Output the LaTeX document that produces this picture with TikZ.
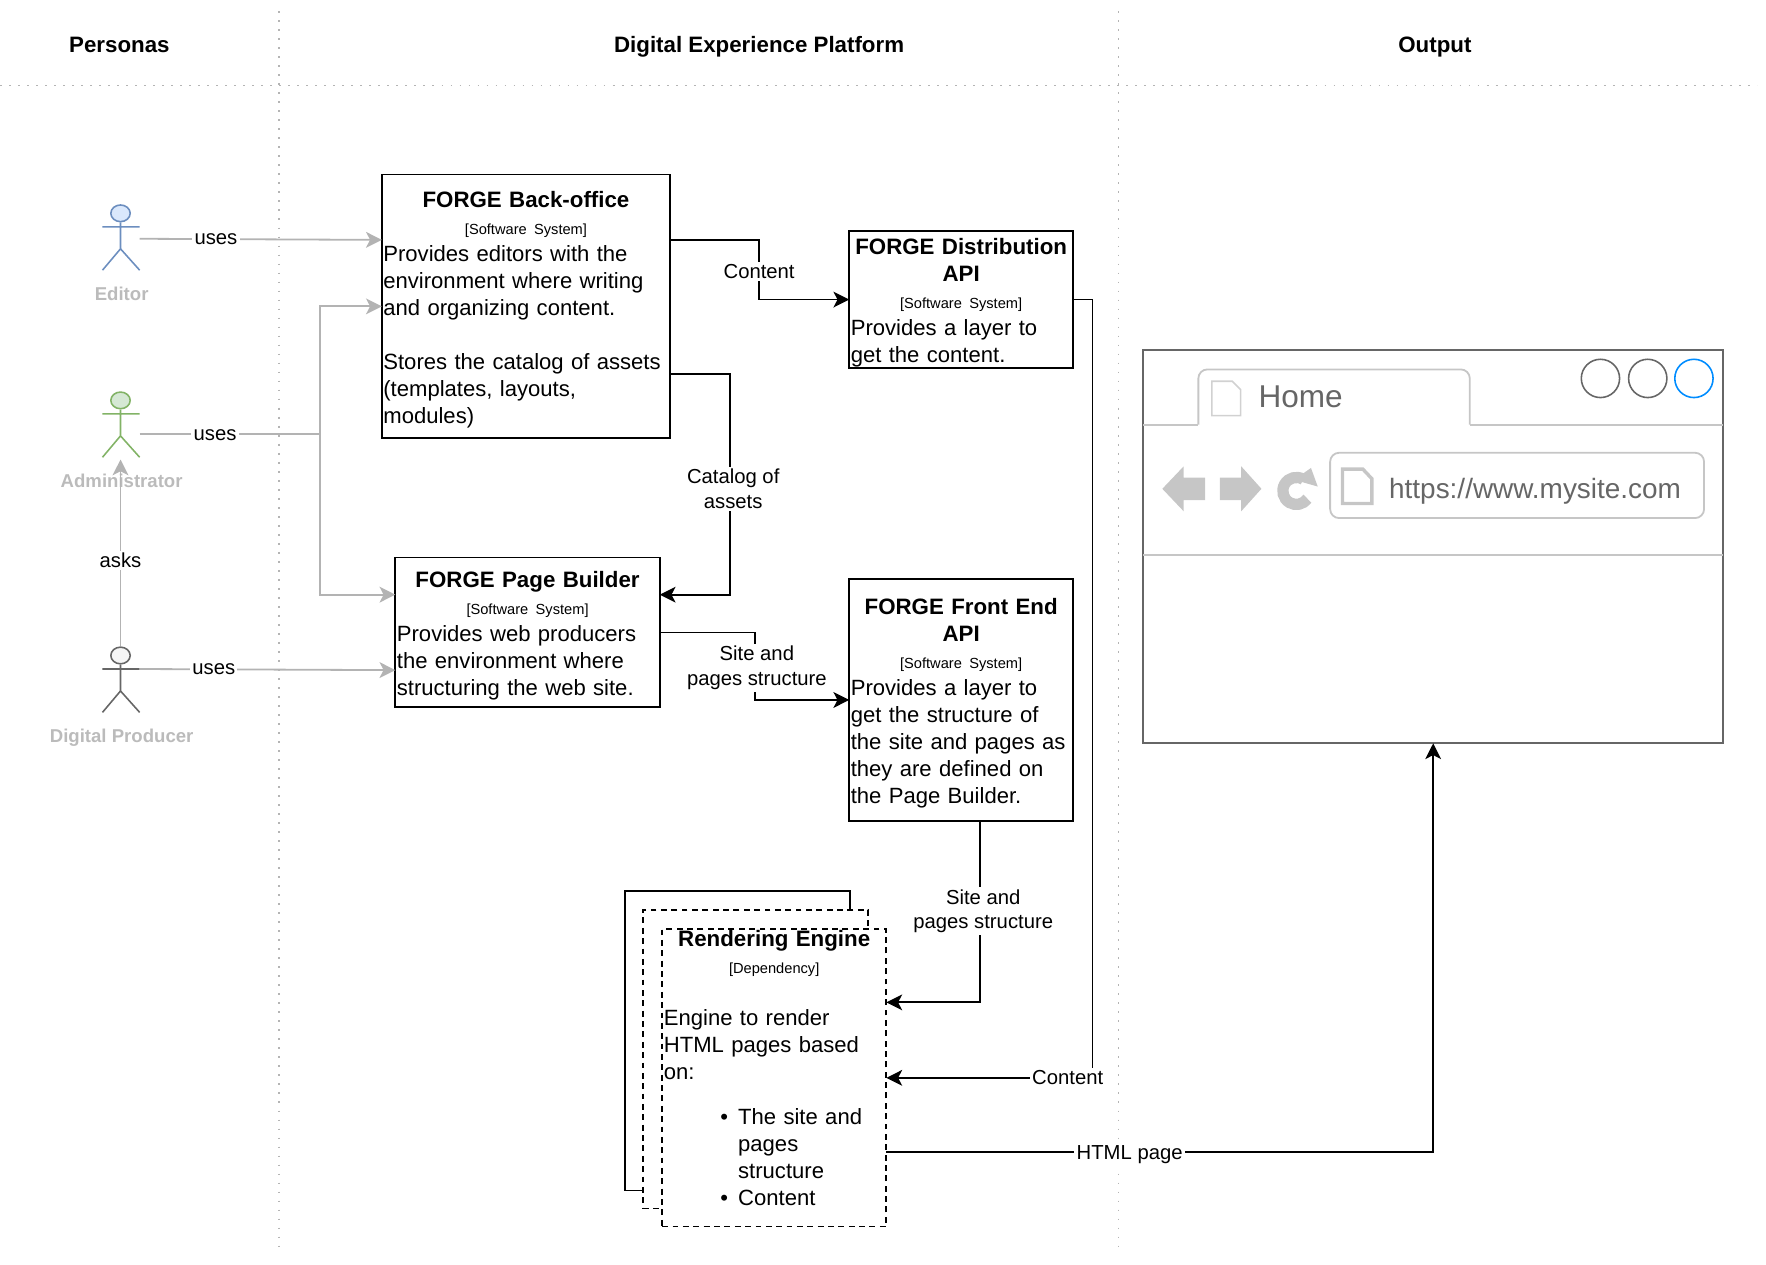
\documentclass[tikz,border=0pt]{standalone}
\usepackage{fontspec}
\setmainfont{Liberation Sans}
\usetikzlibrary{arrows.meta,shapes.geometric}

\definecolor{guidegray}{HTML}{B4B4B4}
\definecolor{usesgray}{HTML}{B3B3B3}
\definecolor{personagray}{HTML}{BBBBBB}
\definecolor{chromegray}{HTML}{C6C6C6}
\definecolor{textgray}{HTML}{666666}
\definecolor{editorfill}{HTML}{DAE8FC}
\definecolor{editorline}{HTML}{6C8EBF}
\definecolor{adminfill}{HTML}{D5E8D4}
\definecolor{adminline}{HTML}{82B366}
\definecolor{producerfill}{HTML}{F5F5F5}
\definecolor{producerline}{HTML}{666666}
\definecolor{closeblue}{HTML}{008CFF}

\newcommand{\boxhead}[2]{{\centering\fontsize{9.9}{12}\bfseries\selectfont\strut #1\par
  \fontsize{6.5}{12}\mdseries\selectfont #2\par}}
\newcommand{\boxend}{\strut\par\kern-3pt}
\newcommand{\listitem}[1]{\hspace*{33pt}\llap{\textbullet\hspace{4.5pt}}#1}
\newcommand{\listmore}[1]{\hspace*{33pt}#1}

\tikzset{
  >={Stealth[length=7pt,width=7pt,inset=1.8pt]},
  softbox/.style={draw, line width=0.8pt, fill=white, anchor=north west, inner xsep=0.7pt,
    inner ysep=0pt, outer sep=0pt, align=left, font=\fontsize{9.8}{12}\selectfont},
  stackbox/.style={softbox, dash pattern=on 2.6pt off 2pt},
  flow/.style={->, line width=0.8pt},
  usesflow/.style={->, line width=0.8pt, color=usesgray},
  edgelabel/.style={fill=white, inner sep=1pt, align=center, font=\fontsize{9}{11}\selectfont},
  header/.style={anchor=base, font=\fontsize{9.9}{12}\bfseries\selectfont},
  guide/.style={color=guidegray, line width=0.8pt, dash pattern=on 0.8pt off 3.2pt},
  persona/.style={color=personagray, font=\fontsize{8.25}{10}\bfseries\selectfont},
  chrome/.style={color=chromegray, line width=0.8pt}
}

\begin{document}
\begin{tikzpicture}[x=0.5pt, y=-0.5pt]
\useasboundingbox (0, 0) rectangle (1568, 1122.3);

\node[header] (personas) at (106, 47) {Personas};
\node[header] (platform) at (674, 47) {Digital Experience Platform};
\node[header] (output) at (1274, 47) {Output};
\draw[guide] (248, 10) -- (248, 1110);
\draw[guide] (993, 10) -- (993, 1113);
\draw[guide] (0, 76) -- (1560, 76);

% actors
\foreach \name/\hy/\fillc/\linec/\ly/\who in {
    editor/189.4/editorfill/editorline/261/Editor,
    admin/355.5/adminfill/adminline/427/Administrator,
    producer/582/producerfill/producerline/655/Digital Producer} {
  \node[draw=\linec, fill=\fillc, ellipse, line width=0.7pt, minimum width=8.6pt,
    minimum height=7.4pt, inner sep=0pt] (\name) at (107, \hy) {};
  \draw[color=\linec, line width=0.7pt] (\name.south) -- (107, {\hy+31.5})
    (91, {\hy+12}) -- (124, {\hy+12})
    (91, {\hy+50.5}) -- (107, {\hy+31.5}) -- (124, {\hy+50.5});
  \node[persona] (\name label) at (108, \ly) {\who};
}
\coordinate (editorhand) at (124, 212);
\coordinate (adminhand) at (124, 385);
\coordinate (producerhand) at (124, 594);
\coordinate (adminfoot) at (107, 408);

% system boxes
\node[softbox, text width=126.6pt, minimum height=117pt] (backoffice) at (339, 155) {%
  \boxhead{FORGE Back-office}{[Software System]}
  Provides editors with the\\environment where writing\\and organizing content.\\[12pt]
  Stores the catalog of assets\\(templates, layouts,\\modules)\boxend};
\node[softbox, text width=98pt, minimum height=61pt] (distribution) at (754, 205) {%
  \boxhead{FORGE Distribution\\API}{[Software System]}
  Provides a layer to\\get the content.\boxend};
\node[softbox, text width=116pt, minimum height=66.5pt] (pagebuilder) at (351, 495) {%
  \boxhead{FORGE Page Builder}{[Software System]}
  Provides web producers\\the environment where\\structuring the web site.\boxend};
\node[softbox, text width=98pt, minimum height=107.5pt] (frontend) at (754, 514) {%
  \boxhead{FORGE Front End\\API}{[Software System]}
  Provides a layer to\\get the structure of\\the site and pages as\\they are defined on\\the Page Builder.\boxend};

% rendering stack
\node[softbox, minimum width=100pt, minimum height=133pt] (renderback) at (555, 791) {};
\node[stackbox, minimum width=100pt, minimum height=132.5pt] (rendermid) at (571, 808) {};
\node[stackbox, minimum width=99.5pt, minimum height=132pt] (renderfront) at (588, 825) {};
\node[anchor=north west, inner sep=0pt, text width=98pt, align=left,
  font=\fontsize{9.8}{12}\selectfont] (rendertext) at (589, 823) {%
  \boxhead{Rendering Engine}{[Dependency]}
  \vspace{11pt}
  Engine to render\\HTML pages based\\on:\\[8pt]
  \listitem{The site and}\\\listmore{pages}\\\listmore{structure}\\\listitem{Content}\strut};

% browser
\node[draw=textgray, line width=0.8pt, anchor=north west, minimum width=257.5pt,
  minimum height=174.5pt, inner sep=0pt, outer sep=0pt] (browser) at (1015, 311) {};
\draw[chrome] (browser.west |- 0, 377) -- (1064, 377);
\draw[chrome, rounded corners=4pt] (1064, 377) -- (1064, 328) -- (1305, 328) -- (1305, 377);
\draw[chrome] (1305, 377) -- (browser.east |- 0, 377);
\draw[chrome] (browser.west |- 0, 493) -- (browser.east |- 0, 493);
\draw[color=chromegray!80, line width=0.7pt] (1076, 338.5) -- (1094, 338.5) -- (1101.5, 346)
  -- (1101.5, 369) -- (1076, 369) -- cycle;
\node[color=textgray, anchor=west, inner sep=0pt, font=\fontsize{14}{16}\selectfont] (hometab)
  at (1117, 352) {Home};
\foreach \cx/\cc in {1421/textgray, 1463/textgray, 1504/closeblue}
  \draw[color=\cc, line width=0.7pt] (\cx, 336) circle (8.5pt);
\fill[chromegray] (1032, 434) -- (1051, 414) -- (1051, 424) -- (1070, 424) -- (1070, 444)
  -- (1051, 444) -- (1051, 454) -- cycle;
\fill[chromegray] (1120, 434) -- (1102, 414) -- (1102, 424) -- (1083, 424) -- (1083, 444)
  -- (1102, 444) -- (1102, 454) -- cycle;
\draw[chromegray, line width=5pt] (1157, 425.5) arc[start angle=60, end angle=325, radius=6pt];
\fill[chromegray] (1164, 415.5) -- (1170, 432) -- (1149, 426) -- cycle;
\draw[chrome, rounded corners=4pt] (1181, 402) rectangle (1513, 460);
\draw[color=chromegray, line width=1.5pt] (1192, 416.5) -- (1210, 416.5) -- (1218, 425)
  -- (1218, 447) -- (1192, 447) -- cycle;
\node[color=textgray, anchor=west, inner sep=0pt, font=\fontsize{12.4}{15}\selectfont] (urlbar)
  at (1233, 436) {https://www.mysite.com};

% persona connectors
\draw[usesflow] (editorhand) -- ([yshift=29.5pt]backoffice.west)
  node[edgelabel, pos=0.315, text=black] (usesa) {uses};
\draw[color=usesgray, line width=0.8pt] (adminhand) -- (284, 385);
\draw[usesflow] (284, 385) |- (backoffice.west);
\draw[usesflow] (284, 385) |- ([yshift=16.75pt]pagebuilder.west);
\node[edgelabel] (usesb) at (191, 386) {uses};
\draw[usesflow] (producerhand) -- ([yshift=-16.75pt]pagebuilder.west)
  node[edgelabel, pos=0.29, text=black] (usesc) {uses};
\draw[usesflow] (producer.north) -- (adminfoot)
  node[edgelabel, pos=0.46, text=black] (asks) {asks};

% system connectors
\draw[flow] ([yshift=29.5pt]backoffice.east) -| (674, 241)
  node[edgelabel] (content) {Content} |- (distribution.west);
\draw[flow] ([yshift=-30pt]backoffice.east) -| (648, 433)
  |- ([yshift=16.75pt]pagebuilder.east);
\node[edgelabel] (catalog) at (651, 434) {Catalog of\\assets};
\draw[flow] (pagebuilder.east) -| (670, 591) |- (frontend.west);
\node[edgelabel] (sitea) at (672, 593) {Site and\\pages structure};
\draw[flow] ([xshift=8.25pt]frontend.south) |- ([yshift=33.5pt]renderfront.east);
\node[edgelabel] (siteb) at (873, 809) {Site and\\pages structure};
\draw[flow] (distribution.east) -| (970, 957) -- (renderfront.east);
\node[edgelabel] (contentb) at (948, 957) {Content};
\draw[flow] ([yshift=-33pt]renderfront.east) -| (browser.south);
\node[edgelabel] (htmlpage) at (1003, 1025) {HTML page};
\end{tikzpicture}
\end{document}
